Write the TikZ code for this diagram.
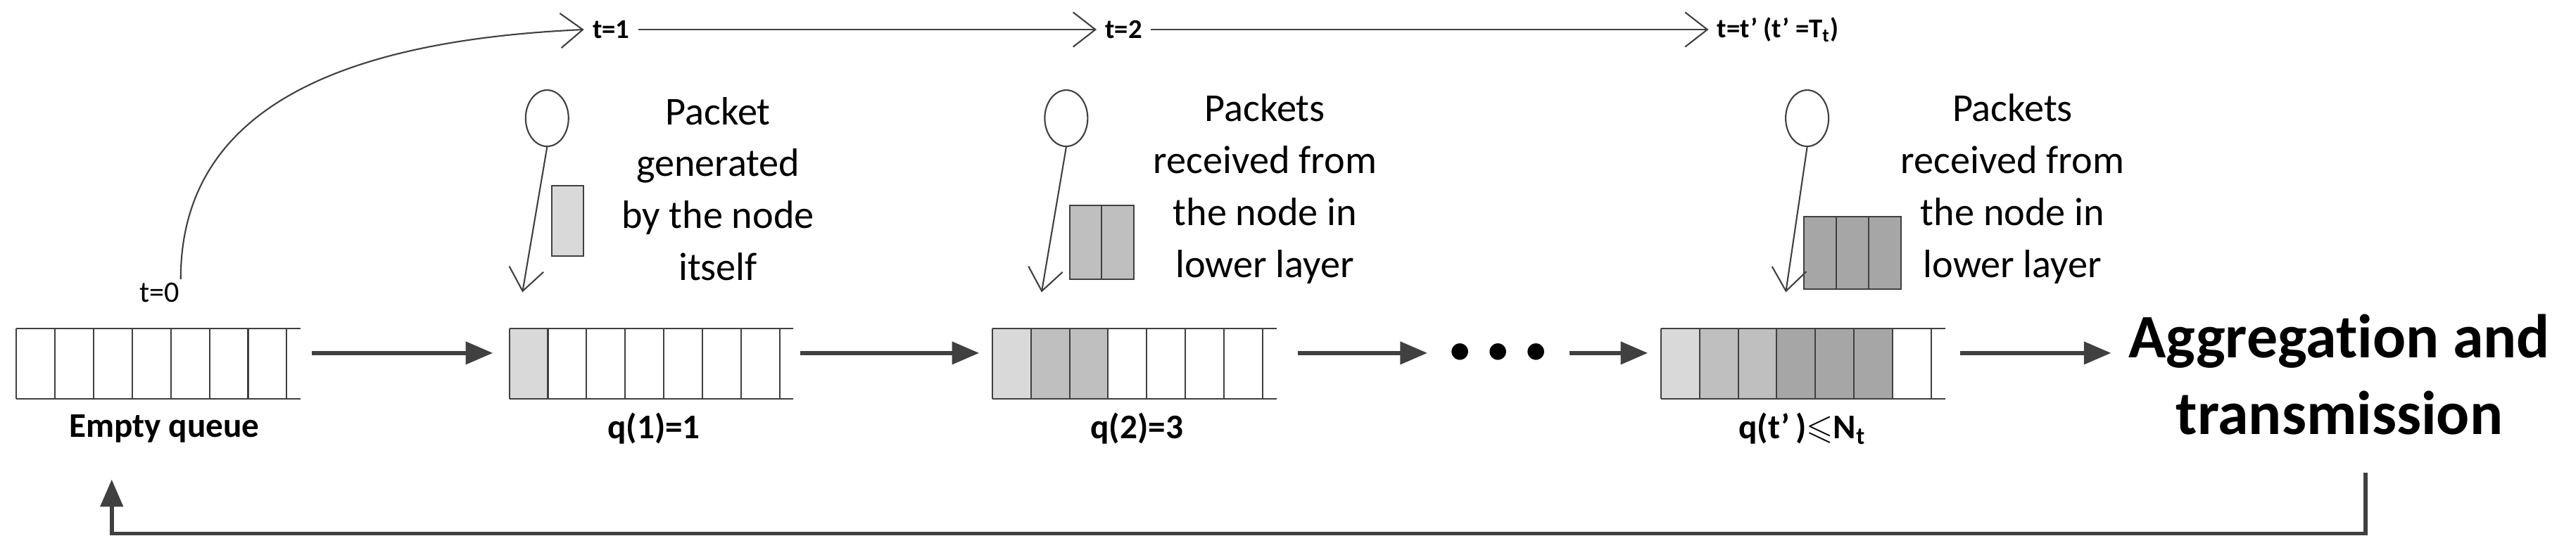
\documentclass[tikz,border=0pt]{standalone}
\usepackage{amssymb}
\usepackage{fontspec}
\setmainfont{Carlito}[Ligatures=NoCommon]
\usetikzlibrary{arrows.meta,shapes.geometric}
\definecolor{cA}{HTML}{D9D9D9}
\definecolor{cB}{HTML}{BFBFBF}
\definecolor{cC}{HTML}{A6A6A6}
\definecolor{ln}{HTML}{404040}
\tikzset{
  flow/.style={draw=ln,line width=1.6pt,-{Triangle[length=11pt,width=9pt]}},
  thin/.style={draw=ln,line width=0.6pt,-{Straight Barb[length=9pt,width=14pt]}},
  cell/.style={draw=ln,line width=0.6pt},
  body/.style={font=\fontsize{16}{21}\selectfont,align=center},
  qlab/.style={font=\fontsize{14}{16}\selectfont\bfseries},
  tlab/.style={font=\fontsize{11}{13}\selectfont\bfseries},
  src/.style={draw=ln,line width=0.6pt,ellipse,minimum width=0.61cm,minimum height=0.8cm,inner sep=0pt}
}
\newcommand{\queue}[3]{% name, x0, list of fills
  \node[minimum width=4.04cm,minimum height=1.0cm,inner sep=0pt,anchor=west] (#1) at (#2,221.5) {};
  \foreach \c [count=\i from 0] in {#3} {
    \fill[\c] ({#2+23.5*\i},200) rectangle ({#2+23.5*(\i+1)},243);
    \draw[cell] ({#2+23.5*\i},200) -- ({#2+23.5*\i},243);
  }
  \draw[cell] ({#2+23.5*7},200) -- ({#2+23.5*7},243);
  \draw[cell] (#2,200) -- ({#2+173},200) (#2,243) -- ({#2+173},243);
}
\begin{document}
\begin{tikzpicture}[x=0.02334cm,y=-0.02334cm]
\useasboundingbox (0,0) rectangle (1568,338);
\queue{q0}{10}{white,white,white,white,white,white,white}
\queue{q1}{310}{cA,white,white,white,white,white,white}
\queue{q2}{604}{cA,cB,cB,white,white,white,white}
\queue{q3}{1011}{cA,cB,cB,cC,cC,cC,white}

\node[qlab] (l0) at (100,261) {Empty queue};
\node[qlab] (l1) at (398,261) {q(1)=1};
\node[qlab] (l2) at (692,261) {q(2)=3};
\node[qlab] (l3) at (1097,261) {q(t\textquoteright\,)$\leqslant$N\textsubscript{t}};

\node[font=\fontsize{12}{14}\selectfont] (t0) at (97,178) {t=0};
\node[tlab] (t1) at (372,18) {t=1};
\node[tlab] (t2) at (684,18) {t=2};
\node[tlab,anchor=west] (t3) at (1040,18) {t=t\textquoteright\ (t\textquoteright\ =T\textsubscript{t})};
\draw[thin] (110,170) .. controls (110,70) and (200,25) .. (t1.west);
\draw[thin] (t1.east) -- (t2.west);
\draw[thin] (t2.east) -- (t3.west);

\node[body,font=\fontsize{25}{31}\selectfont\bfseries] (agg) at (1424,228) {Aggregation and\\transmission};
\coordinate (aggin) at (1285,215);

\node[inner sep=0pt,outer sep=9pt] (dots) at (912,215) {\fontsize{18}{18}\selectfont$\bullet\,\bullet\,\bullet$};
\draw[flow] (190,215) -- (300,215);
\draw[flow] (487,215) -- (596,215);
\draw[flow] (790,215) -- (dots.west);
\draw[flow] (dots.east) -- (1003,215);
\draw[flow] (1193,215) -- (aggin);
\coordinate (fb) at (1440,288);
\draw[flow] (fb) -- (1440,325) -- (68,325) -- (68,292);

\node[src] (s1) at (333,72) {};
\draw[cell,fill=cA] (336,113) rectangle (355,156);
\draw[thin] (s1.south) -- (318,178);
\node[body] (b1) at (437,115) {Packet\\generated\\by the node\\itself};

\node[src] (s2) at (649,72) {};
\draw[cell,fill=cB] (651,125) rectangle (690,170) (670.5,125) -- (670.5,170);
\draw[thin] (s2.south) -- (634,178);
\node[body] (b2) at (770,115) {Packets\\received from\\the node in\\lower layer};

\node[src] (s3) at (1100,72) {};
\draw[cell,fill=cC] (1098,132) rectangle (1157,176) (1117.7,132) -- (1117.7,176) (1137.3,132) -- (1137.3,176);
\draw[thin] (s3.south) -- (1087,178);
\node[body] (b3) at (1225,115) {Packets\\received from\\the node in\\lower layer};
\end{tikzpicture}
\end{document}
